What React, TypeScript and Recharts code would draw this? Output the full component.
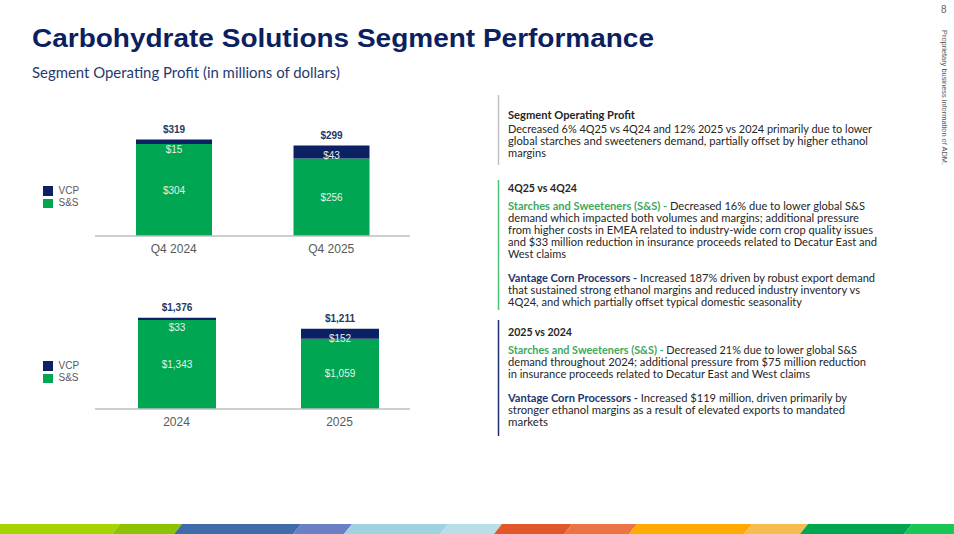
import React from 'react';
import { BarChart, Bar, XAxis, YAxis, LabelList, Legend } from 'recharts';

// Segment operating profit, millions of dollars
const quarterCategories = ['Q4 2024', 'Q4 2025'];
const quarterStarches = [304, 256];
const quarterVantage = [15, 43];

const yearCategories = ['2024', '2025'];
const yearStarches = [1343, 1059];
const yearVantage = [33, 152];

const NAVY = '#0B2163';
const GREEN = '#00A651';
const INNER_LABEL = '#E4F3E8';
const TOTAL_LABEL = '#1F3864';
const AXIS_TEXT = '#595959';
const ARIAL = '"Liberation Sans", Arial, sans-serif';
const BODY = 'Lato, "Open Sans", sans-serif';

const fmt = (v: any) => '$' + Number(v).toLocaleString('en-US');

type Part = [string, 'n' | 'b' | 'g' | 'v'];
interface NoteLine { y: number; w: number; parts: Part[] }

const notes: NoteLine[] = [
  { y: 115, w: 127, parts: [['Segment Operating Profit', 'b']] },
  { y: 129, w: 364, parts: [['Decreased 6% 4Q25 vs 4Q24 and 12% 2025 vs 2024 primarily due to lower', 'n']] },
  { y: 141, w: 360, parts: [['global starches and sweeteners demand, partially offset by higher ethanol', 'n']] },
  { y: 153, w: 38, parts: [['margins', 'n']] },
  { y: 188, w: 69, parts: [['4Q25 vs 4Q24', 'b']] },
  { y: 206, w: 357, parts: [['Starches and Sweeteners (S&S) -', 'g'], [' Decreased 16% due to lower global S&S', 'n']] },
  { y: 218, w: 351, parts: [['demand which impacted both volumes and margins; additional pressure', 'n']] },
  { y: 230, w: 365, parts: [['from higher costs in EMEA related to industry-wide corn crop quality issues', 'n']] },
  { y: 242, w: 369, parts: [['and $33 million reduction in insurance proceeds related to Decatur East and', 'n']] },
  { y: 254, w: 58, parts: [['West claims', 'n']] },
  { y: 278, w: 367, parts: [['Vantage Corn Processors -', 'v'], [' Increased 187% driven by robust export demand', 'n']] },
  { y: 290, w: 352, parts: [['that sustained strong ethanol margins and reduced industry inventory vs', 'n']] },
  { y: 302, w: 294, parts: [['4Q24, and which partially offset typical domestic seasonality', 'n']] },
  { y: 332, w: 64, parts: [['2025 vs 2024', 'b']] },
  { y: 350, w: 349, parts: [['Starches and Sweeteners (S&S) -', 'g'], [' Decreased 21% due to lower global S&S', 'n']] },
  { y: 362, w: 358, parts: [['demand throughout 2024; additional pressure from $75 million reduction', 'n']] },
  { y: 374, w: 302, parts: [['in insurance proceeds related to Decatur East and West claims', 'n']] },
  { y: 398, w: 339, parts: [['Vantage Corn Processors -', 'v'], [' Increased $119 million, driven primarily by', 'n']] },
  { y: 410, w: 337, parts: [['stronger ethanol margins as a result of elevated exports to mandated', 'n']] },
  { y: 422, w: 40, parts: [['markets', 'n']] },
];

const partStyle: Record<string, { fill: string; fontWeight: string }> = {
  n: { fill: '#262626', fontWeight: 'normal' },
  b: { fill: '#262626', fontWeight: 'bold' },
  g: { fill: '#3AAA5E', fontWeight: 'bold' },
  v: { fill: '#22376F', fontWeight: 'bold' },
};

// Decorative footer band: [left edge at bottom, right edge at bottom, colour]
const footerBands: [number, number, string][] = [
  [-10, 112, '#A6D400'],
  [112, 174, '#8DC300'],
  [174, 293, '#406DAA'],
  [293, 344, '#6A7FC6'],
  [344, 440, '#9ED2E0'],
  [440, 494, '#B7DEE9'],
  [494, 564, '#E0582A'],
  [564, 629, '#EA7443'],
  [629, 744, '#FFAA00'],
  [744, 800, '#F8BD4F'],
  [800, 904, '#00A650'],
  [904, 970, '#18C754'],
];

const LegendBox = (props: any) => {
  const items = [...(props.payload || [])].reverse();
  return (
    <div style={{ fontFamily: ARIAL, fontSize: 10, color: AXIS_TEXT }}>
      {items.map((it: any) => (
        <div key={it.value} style={{ display: 'flex', alignItems: 'center', height: 12.3 }}>
          <span style={{ display: 'inline-block', width: 9.5, height: 9.5, background: it.color, marginRight: 6 }} />
          <span style={{ lineHeight: '10px' }}>{it.value}</span>
        </div>
      ))}
    </div>
  );
};

interface ChartProps {
  categories: string[];
  starches: number[];
  vantage: number[];
  top: number;
  height: number;
  marginTop: number;
  domainMax: number;
  barSize: number;
  rightPad: number;
  legendTop: number;
}

function SegmentChart({ categories, starches, vantage, top, height, marginTop, domainMax, barSize, rightPad, legendTop }: ChartProps) {
  const data = categories.map((cat, i) => ({ cat, ss: starches[i], vcp: vantage[i] }));
  const totals = categories.map((_, i) => starches[i] + vantage[i]);

  const topLabels = (p: any) => {
    const cx = Number(p.x) + Number(p.width) / 2;
    const y = Number(p.y);
    return (
      <g>
        <text x={cx} y={y + 10} textAnchor="middle" dominantBaseline="central" fill={INNER_LABEL} fontSize={10} fontFamily={ARIAL}>
          {fmt(p.value)}
        </text>
        <text x={cx} y={y - 10} textAnchor="middle" dominantBaseline="central" fill={TOTAL_LABEL} fontSize={10} fontWeight="bold" fontFamily={ARIAL}>
          {fmt(totals[p.index])}
        </text>
      </g>
    );
  };

  return (
    <div style={{ position: 'absolute', left: 0, top, width: 430, height }}>
      <BarChart width={430} height={height} data={data} margin={{ top: marginTop, right: 20, bottom: 0, left: 95 }}>
        <XAxis
          dataKey="cat"
          height={24}
          axisLine={{ stroke: '#BFBFBF', strokeWidth: 1.5 }}
          tickLine={false}
          tick={{ fill: AXIS_TEXT, fontSize: 12, fontFamily: ARIAL }}
          padding={{ left: 0, right: rightPad }}
        />
        <YAxis hide domain={[0, domainMax]} allowDataOverflow />
        <Legend
          layout="vertical"
          align="center"
          verticalAlign="middle"
          content={LegendBox}
          wrapperStyle={{ left: 43, top: legendTop, width: 60 }}
        />
        <Bar dataKey="ss" name="S&S" stackId="s" fill={GREEN} barSize={barSize} isAnimationActive={false}>
          <LabelList dataKey="ss" position="center" formatter={fmt} fill={INNER_LABEL} fontSize={10} fontFamily={ARIAL} />
        </Bar>
        <Bar dataKey="vcp" name="VCP" stackId="s" fill={NAVY} barSize={barSize} isAnimationActive={false}>
          <LabelList dataKey="vcp" content={topLabels} />
        </Bar>
      </BarChart>
    </div>
  );
}

export default function App() {
  return (
    <div style={{ position: 'absolute', left: 0, top: 0, width: 954, height: 534, background: '#ffffff', overflow: 'hidden' }}>
      <svg width={954} height={534} style={{ position: 'absolute', left: 0, top: 0 }}>
        <text x={32} y={47} fontFamily={ARIAL} fontWeight="bold" fontSize={26} fill="#0C1F5F" textLength={622} lengthAdjust="spacingAndGlyphs">
          Carbohydrate Solutions Segment Performance
        </text>
        <text x={32} y={77.5} fontFamily={BODY} fontSize={15} fill="#1F3A73" textLength={308} lengthAdjust="spacingAndGlyphs">
          Segment Operating Profit (in millions of dollars)
        </text>

        <text x={941} y={13} fontFamily={ARIAL} fontSize={10} fill="#666666">8</text>
        <text transform="translate(942,30) rotate(90)" fontFamily={ARIAL} fontSize={7.5} fill="#555555" textLength={135} lengthAdjust="spacingAndGlyphs">
          Proprietary business information of ADM.
        </text>

        <line x1={498.5} y1={95} x2={498.5} y2={165} stroke="#C0C0C0" strokeWidth={1.5} />
        <line x1={498.5} y1={180} x2={498.5} y2={310} stroke="#4CC27A" strokeWidth={1.5} />
        <line x1={498.5} y1={320} x2={498.5} y2={436} stroke="#1F2F6E" strokeWidth={1.5} />

        {notes.map((ln, i) => (
          <text key={i} x={508} y={ln.y + 4} fontFamily={BODY} fontSize={11} textLength={ln.w} lengthAdjust="spacingAndGlyphs">
            {ln.parts.map(([t, k], j) => (
              <tspan key={j} fill={partStyle[k].fill} fontWeight={partStyle[k].fontWeight}>{t}</tspan>
            ))}
          </text>
        ))}

        {footerBands.map(([a, b, c], i) => (
          <polygon key={i} points={`${a},534 ${b},534 ${b + 8},524 ${a + 8},524`} fill={c} />
        ))}
      </svg>

      <SegmentChart
        categories={quarterCategories}
        starches={quarterStarches}
        vantage={quarterVantage}
        top={100}
        height={160}
        marginTop={15}
        domainMax={400}
        barSize={76}
        rightPad={0}
        legendTop={85}
      />
      <SegmentChart
        categories={yearCategories}
        starches={yearStarches}
        vantage={yearVantage}
        top={290}
        height={143}
        marginTop={13}
        domainMax={1600}
        barSize={78}
        rightPad={-11}
        legendTop={70}
      />
    </div>
  );
}
